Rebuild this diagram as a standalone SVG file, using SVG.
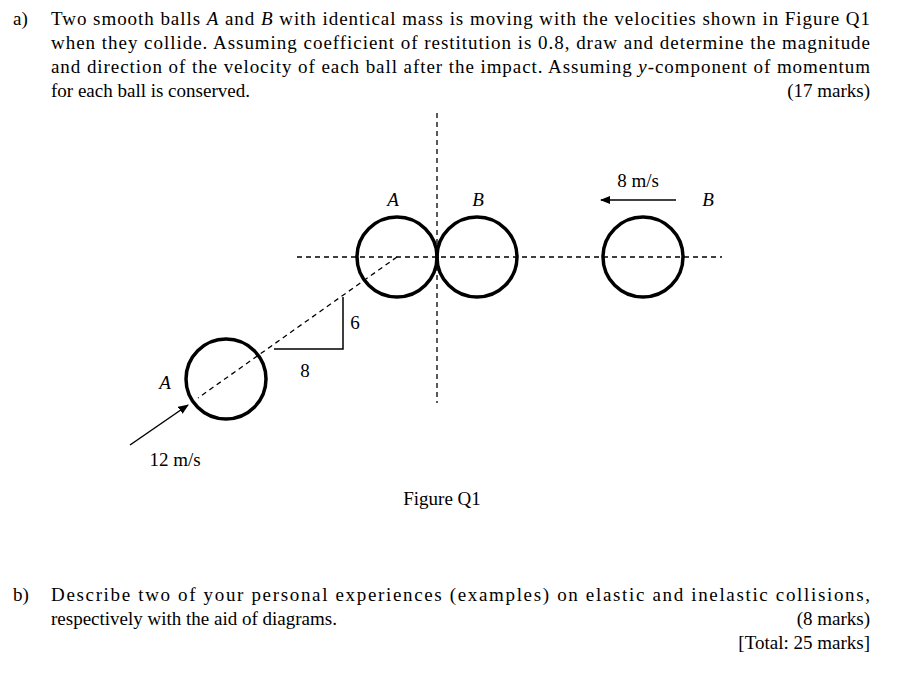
<svg xmlns="http://www.w3.org/2000/svg" width="898" height="675" viewBox="0 0 898 675">
<style>
text{font-family:"Liberation Serif","Times New Roman",serif;font-size:19px;fill:#000}
.i{font-style:italic}
.ball{fill:none;stroke:#000;stroke-width:3.5}
.d{fill:none;stroke:#000;stroke-width:1.3;stroke-dasharray:5,4}
.l{fill:none;stroke:#000;stroke-width:1.5}
</style>
<defs><marker id="ah" viewBox="0 0 10 10" refX="9" refY="5" markerWidth="7" markerHeight="7" orient="auto"><path d="M0,1 L10,5 L0,9 z" fill="#000"/></marker></defs>
<rect width="898" height="675" fill="#fff"/>
<text x="13" y="25">a)</text>
<text x="51" y="25" textLength="819" lengthAdjust="spacing">Two smooth balls <tspan class="i">A</tspan> and <tspan class="i">B</tspan> with identical mass is moving with the velocities shown in Figure Q1</text>
<text x="51" y="49" textLength="819" lengthAdjust="spacing">when they collide. Assuming coefficient of restitution is 0.8, draw and determine the magnitude</text>
<text x="51" y="73" textLength="819" lengthAdjust="spacing">and direction of the velocity of each ball after the impact. Assuming <tspan class="i">y</tspan>-component of momentum</text>
<text x="51" y="97">for each ball is conserved.</text>
<text x="870" y="97" text-anchor="end">(17 marks)</text>
<g id="connectors">
<line class="d" x1="437" y1="113" x2="437" y2="403"/>
<line class="d" x1="297" y1="257" x2="722" y2="257"/>
<line class="d" x1="397" y1="257" x2="198" y2="398"/>
<polyline class="l" points="274,349 343,349 343,297"/>
<line class="l" x1="130" y1="445" x2="188" y2="405" marker-end="url(#ah)"/>
<line class="l" x1="676" y1="200" x2="601" y2="200" marker-end="url(#ah)"/>
</g>
<g id="ballA"><circle class="ball" cx="397" cy="257" r="40"/><text class="i" x="393" y="206" text-anchor="middle">A</text></g>
<g id="ballB"><circle class="ball" cx="477" cy="257" r="40"/><text class="i" x="478" y="206" text-anchor="middle">B</text></g>
<g id="ballB0"><circle class="ball" cx="643" cy="257" r="40"/><text class="i" x="708" y="206" text-anchor="middle">B</text><text x="638" y="187" text-anchor="middle">8 m/s</text></g>
<g id="ballA0"><circle class="ball" cx="226" cy="379" r="40"/><text class="i" x="165" y="389" text-anchor="middle">A</text><text x="175" y="466" text-anchor="middle">12 m/s</text></g>
<text x="355" y="329" text-anchor="middle">6</text>
<text x="305" y="377" text-anchor="middle">8</text>
<text x="442" y="505" text-anchor="middle">Figure Q1</text>
<text x="13" y="601">b)</text>
<text x="51" y="601" textLength="819" lengthAdjust="spacing">Describe two of your personal experiences (examples) on elastic and inelastic collisions,</text>
<text x="51" y="625">respectively with the aid of diagrams.</text>
<text x="870" y="625" text-anchor="end">(8 marks)</text>
<text x="870" y="649" text-anchor="end">[Total: 25 marks]</text>
</svg>
